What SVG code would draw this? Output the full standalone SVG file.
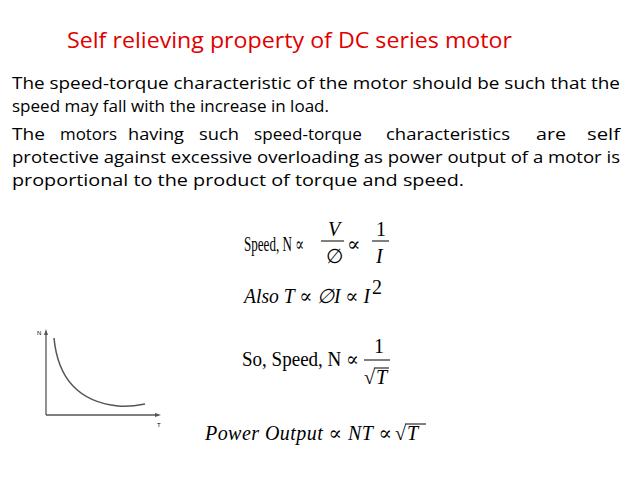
<svg xmlns="http://www.w3.org/2000/svg" width="638" height="478" viewBox="0 0 638 478">
<style>
.b{font-family:"Open Sans","Liberation Sans",sans-serif;font-size:16.5px;fill:#000}
.m{font-family:"Liberation Serif","DejaVu Serif",serif;font-size:20px;fill:#000}
.i{font-style:italic}
.ax{stroke:#555;stroke-width:1.3;fill:none}
</style>
<rect width="638" height="478" fill="#fff"/>
<g id="title"><text x="67" y="48" font-family="Open Sans, Liberation Sans, sans-serif" font-size="22" fill="#e00000" textLength="445" lengthAdjust="spacingAndGlyphs">Self relieving property of DC series motor</text></g>
<g id="body">
<text class="b" x="12" y="89" textLength="608" lengthAdjust="spacingAndGlyphs">The speed-torque characteristic of the motor should be such that the</text>
<text class="b" x="12" y="112" textLength="317" lengthAdjust="spacingAndGlyphs">speed may fall with the increase in load.</text>
<text class="b" y="140"><tspan x="12" textLength="33" lengthAdjust="spacingAndGlyphs">The</tspan><tspan x="60" textLength="57" lengthAdjust="spacingAndGlyphs">motors</tspan><tspan x="128" textLength="56" lengthAdjust="spacingAndGlyphs">having</tspan><tspan x="199" textLength="40" lengthAdjust="spacingAndGlyphs">such</tspan><tspan x="254" textLength="108" lengthAdjust="spacingAndGlyphs">speed-torque</tspan><tspan x="386" textLength="124" lengthAdjust="spacingAndGlyphs">characteristics</tspan><tspan x="536" textLength="30" lengthAdjust="spacingAndGlyphs">are</tspan><tspan x="587" textLength="33" lengthAdjust="spacingAndGlyphs">self</tspan></text>
<text class="b" x="12" y="163" textLength="608" lengthAdjust="spacingAndGlyphs">protective against excessive overloading as power output of a motor is</text>
<text class="b" x="12" y="186" textLength="452" lengthAdjust="spacingAndGlyphs">proportional to the product of torque and speed.</text>
</g>
<g id="eq1">
<text class="m" x="244" y="251" font-size="17" textLength="60" lengthAdjust="spacingAndGlyphs">Speed, N ∝</text>
<text class="m i" x="328" y="236">V</text>
<line x1="321" y1="241" x2="344" y2="241" stroke="#000" stroke-width="1"/>
<text class="m" x="326" y="263">∅</text>
<text class="m" x="347" y="251">∝</text>
<text class="m" x="376" y="236">1</text>
<line x1="372" y1="241" x2="389" y2="241" stroke="#000" stroke-width="1"/>
<text class="m i" x="376" y="263">I</text>
</g>
<g id="eq2"><text class="m i" x="244" y="303" textLength="126" lengthAdjust="spacingAndGlyphs">Also T ∝ ∅I ∝ I</text><text class="m" x="372" y="294" font-size="13">2</text></g>
<g id="eq3">
<text class="m" x="242" y="366" textLength="117" lengthAdjust="spacingAndGlyphs">So, Speed, N ∝</text>
<text class="m" x="374" y="353">1</text>
<line x1="364" y1="360" x2="390" y2="360" stroke="#000" stroke-width="1"/>
<text class="m" x="364" y="384">√</text><line x1="374" y1="368" x2="389" y2="368" stroke="#000" stroke-width="1"/>
<text class="m i" x="376" y="384">T</text>
</g>
<g id="eq4"><text class="m i" x="205" y="440" textLength="187" lengthAdjust="spacing">Power Output ∝ NT ∝</text>
<text class="m" x="395" y="440">√</text><line x1="405" y1="424" x2="426" y2="424" stroke="#000" stroke-width="1"/>
<text class="m i" x="407" y="440">T</text></g>
<g id="graph">
<line class="ax" x1="46" y1="415" x2="46" y2="332"/>
<line class="ax" x1="46" y1="415" x2="158" y2="415"/>
<polygon points="46,329 44,335 48,335" fill="#555"/>
<polygon points="161,415 155,413 155,417" fill="#555"/>
<text x="37" y="335" font-family="Liberation Sans, sans-serif" font-size="6">N</text>
<text x="157" y="427" font-family="Liberation Sans, sans-serif" font-size="6">T</text>
<path d="M54,338 C58,380 80,402 118,406 C130,407 140,405 145,404" fill="none" stroke="#555" stroke-width="1.5"/>
</g>
</svg>
